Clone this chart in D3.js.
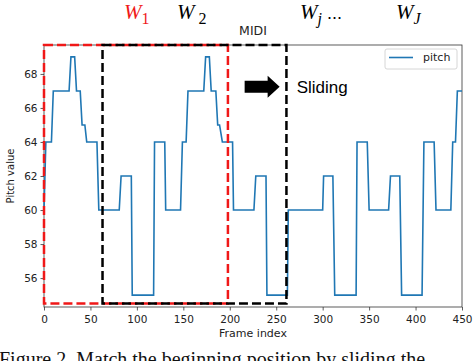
<!DOCTYPE html>
<html>
<head>
<meta charset="utf-8">
<script src="https://cdn.jsdelivr.net/npm/d3@7"></script>
<style>
  body { margin: 0; background: #fff; }
  svg { display: block; font-family: "DejaVu Sans", sans-serif; }
</style>
</head>
<body>
<div id="chart-area"></div>
<script>
// MIDI pitch contour with sliding windows

const MARGINS = { TOP: 45, BOTTOM: 54, LEFT: 44, RIGHT: 12 }
const WIDTH = 474 - MARGINS.LEFT - MARGINS.RIGHT
const HEIGHT = 361 - MARGINS.TOP - MARGINS.BOTTOM

// pitch breakpoints (frame index, pitch value)
const frames = [0, 2, 8, 10, 27, 29, 33, 35, 39, 41, 44, 46, 57, 59, 81, 83, 94, 95, 118, 119,
    130, 131, 147, 149, 153, 155, 172, 174, 178, 180, 185, 187, 189, 192, 203, 204, 226, 228,
    239, 240, 262, 263, 300, 301, 311, 313, 336, 337, 348, 350, 371, 373, 383, 385, 407, 409,
    420, 422, 438, 440, 443, 445, 450]
const pitch = [60, 64, 64, 67, 67, 69, 69, 67, 67, 65, 65, 64, 64, 60, 60, 62, 62, 55, 55, 64,
    64, 60, 60, 64, 64, 67, 67, 69, 69, 67, 67, 65, 65, 64, 64, 60, 60, 62,
    62, 55, 55, 60, 60, 62, 62, 55, 55, 64, 64, 60, 60, 62, 62, 55, 55, 64,
    64, 60, 60, 64, 64, 67, 67]

const xTicks = [0, 50, 100, 150, 200, 250, 300, 350, 400, 450]
const yTicks = [56, 58, 60, 62, 64, 66, 68]

// windows (frame start, frame end)
const windowNames = ["W1", "W2"]
const windowStart = [0, 63]
const windowEnd = [198, 261]
const windowColors = ["#f01818", "#000000"]

const svg = d3.select("#chart-area").append("svg")
    .attr("width", 474)
    .attr("height", 361)

const g = svg.append("g")
    .attr("transform", `translate(${MARGINS.LEFT}, ${MARGINS.TOP})`)

const x = d3.scaleLinear().domain([0, 450]).range([0, WIDTH])
const y = d3.scaleLinear().domain([54.3, 69.7]).range([HEIGHT, 0])

// axes
const xAxis = d3.axisBottom(x).tickValues(xTicks).tickSize(3.5).tickPadding(5)
g.append("g")
    .attr("class", "x-axis")
    .attr("transform", `translate(0, ${HEIGHT})`)
    .call(xAxis)

const yAxis = d3.axisLeft(y).tickValues(yTicks).tickSize(3.5).tickPadding(3)
g.append("g")
    .attr("class", "y-axis")
    .call(yAxis)

g.selectAll(".x-axis .domain, .y-axis .domain").remove()
g.selectAll(".tick line").attr("stroke", "#333").attr("stroke-width", 0.8)
g.selectAll(".tick text")
    .attr("font-family", "DejaVu Sans")
    .attr("font-size", "10.5px")
    .attr("fill", "#222")

// frame
g.append("rect")
    .attr("width", WIDTH)
    .attr("height", HEIGHT)
    .attr("fill", "none")
    .attr("stroke", "#333")
    .attr("stroke-width", 0.8)

// pitch line
const points = frames.map((f, i) => [f, pitch[i]])
const line = d3.line().x(d => x(d[0])).y(d => y(d[1]))
g.append("path")
    .datum(points)
    .attr("d", line)
    .attr("fill", "none")
    .attr("stroke", "#1f77b4")
    .attr("stroke-width", 1.6)

// dashed windows
windowNames.forEach((w, i) => {
    g.append("rect")
        .attr("x", x(windowStart[i]))
        .attr("y", y(69.7))
        .attr("width", x(windowEnd[i]) - x(windowStart[i]))
        .attr("height", y(54.5) - y(69.7))
        .attr("fill", "none")
        .attr("stroke", windowColors[i])
        .attr("stroke-width", 2.5)
        .attr("stroke-dasharray", "9,4")
})

// arrow
g.append("path")
    .attr("d", "M0,-6 L23,-6 L23,-11 L35,0 L23,11 L23,6 L0,6 Z")
    .attr("transform", `translate(${x(216)}, ${y(67.25)})`)
    .attr("fill", "#000")

g.append("text")
    .attr("x", x(272))
    .attr("y", y(67.25) + 6)
    .attr("font-family", "Liberation Sans")
    .attr("font-size", "17px")
    .attr("fill", "#000")
    .text("Sliding")

// legend
const legend = g.append("g")
    .attr("transform", `translate(${WIDTH - 77}, 4)`)
legend.append("rect")
    .attr("width", 72)
    .attr("height", 20)
    .attr("rx", 2)
    .attr("fill", "#fff")
    .attr("stroke", "#ccc")
    .attr("stroke-width", 0.8)
legend.append("line")
    .attr("x1", 4).attr("x2", 28)
    .attr("y1", 8.5).attr("y2", 8.5)
    .attr("stroke", "#1f77b4")
    .attr("stroke-width", 1.6)
legend.append("text")
    .attr("x", 38)
    .attr("y", 12)
    .attr("font-size", "11px")
    .attr("fill", "#222")
    .text("pitch")

// titles
svg.append("text")
    .attr("x", MARGINS.LEFT + WIDTH / 2)
    .attr("y", 35)
    .attr("text-anchor", "middle")
    .attr("font-size", "12.5px")
    .attr("fill", "#222")
    .text("MIDI")

svg.append("text")
    .attr("x", MARGINS.LEFT + WIDTH / 2)
    .attr("y", 337)
    .attr("text-anchor", "middle")
    .attr("font-size", "11px")
    .attr("fill", "#222")
    .text("Frame index")

svg.append("text")
    .attr("transform", `translate(14, ${MARGINS.TOP + y(62)}) rotate(-90)`)
    .attr("text-anchor", "middle")
    .attr("font-size", "10px")
    .attr("fill", "#222")
    .text("Pitch value")

// window labels above the chart
const labels = [
    { x: 124, main: "W", sub: "1", color: "#f01818" },
    { x: 177, main: "W", sub: " 2", color: "#000" },
    { x: 300, main: "W", sub: "j", color: "#000", after: " ..." },
    { x: 396, main: "W", sub: "J", color: "#000" }
]
labels.forEach(l => {
    const t = svg.append("text")
        .attr("x", l.x)
        .attr("y", 19)
        .attr("font-family", "Liberation Serif")
        .attr("font-style", "italic")
        .attr("font-size", "21px")
        .attr("fill", l.color)
    t.append("tspan").text(l.main)
    t.append("tspan")
        .attr("dy", 5)
        .attr("font-size", "16px")
        .attr("font-style", l.sub.trim() == "1" || l.sub.trim() == "2" ? "normal" : "italic")
        .text(l.sub)
    if (l.after) {
        t.append("tspan")
            .attr("dy", -5)
            .attr("font-style", "normal")
            .attr("font-family", "Liberation Sans")
            .attr("font-size", "18px")
            .text(l.after)
    }
})

// caption, cut off by the image edge
svg.append("text")
    .attr("x", -1)
    .attr("y", 366)
    .attr("font-family", "Liberation Serif")
    .attr("font-size", "20px")
    .attr("fill", "#111")
    .text("Figure 2. Match the beginning position by sliding the")
</script>
</body>
</html>
